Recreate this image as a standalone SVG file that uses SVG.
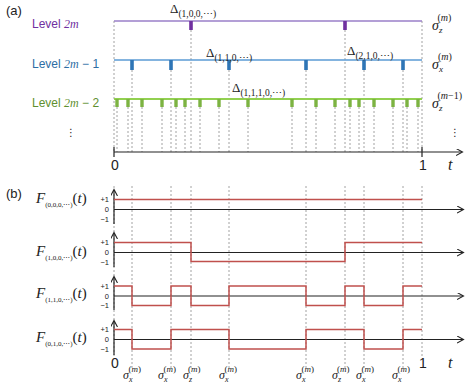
<svg xmlns="http://www.w3.org/2000/svg" width="474" height="384" viewBox="0 0 474 384">
<defs>
<marker id="arr" markerWidth="8" markerHeight="8" refX="6" refY="3.5" orient="auto" markerUnits="userSpaceOnUse">
<path d="M0,0 L6.5,3.5 L0,7" fill="none" stroke="#222" stroke-width="1.1"/>
</marker>
</defs>
<style>
.lbl{font-family:"Liberation Sans",Arial,sans-serif;font-size:13px;fill:#222}
.lev{font-family:"Liberation Sans",Arial,sans-serif;font-size:12px}
.mi{font-family:"Liberation Serif","DejaVu Serif",serif;font-style:italic}
.mr{font-family:"Liberation Serif","DejaVu Serif",serif;font-style:normal}
.math{font-family:"Liberation Serif","DejaVu Serif",serif;fill:#222}
.dash{stroke:#8a8a8a;stroke-width:0.8;stroke-dasharray:2 2;fill:none}
.axis{stroke:#222;stroke-width:1.2;fill:none}
.red{stroke:#c0504d;stroke-width:1.5;fill:none}
.tick{font-family:"Liberation Sans",Arial,sans-serif;font-size:7.5px;fill:#222;text-anchor:end}
.pm{fill:#7030a0}
.bm{fill:#2e75b6}
.gm{fill:#7cb342}
</style>

<text class="lbl" x="6" y="15">(a)</text>
<text class="lbl" x="6" y="198">(b)</text>

<g id="dashes-a">
<path class="dash" d="M114,21V152M422,21V152M191,30V152M345,30V152M132,70V152M171,70V152M229,70V152M306,70V152M364,70V152M403,70V152M117,107V152M128,107V152M142,107V152M162,107V152M176,107V152M185,107V152M200,107V152M219,107V152M248,107V152M292,107V152M316,107V152M335,107V152M350,107V152M359,107V152M374,107V152M393,107V152M407,107V152M418,107V152"/>
</g>

<g id="level-2m">
<text class="lev" x="32" y="28" fill="#7030a0">Level <tspan class="mi">2m</tspan></text>
<line x1="114" y1="21" x2="422" y2="21" stroke="#9a7fc8" stroke-width="1.4"/>
<rect class="pm" x="189.2" y="21" width="3.6" height="9"/>
<rect class="pm" x="343.2" y="21" width="3.6" height="9"/>
<text class="math" x="432" y="30"><tspan class="mi" font-size="14">σ</tspan><tspan class="mi" font-size="9" dy="3">z</tspan><tspan class="mr" font-size="10" dx="-5" dy="-12">(</tspan><tspan class="mi" font-size="10">m</tspan><tspan class="mr" font-size="10">)</tspan></text>
</g>

<g id="level-2m-1">
<text class="lev" x="32" y="68" fill="#2e6da4">Level <tspan class="mi">2m</tspan> − 1</text>
<line x1="114" y1="60" x2="422" y2="60" stroke="#5b9bd5" stroke-width="1.5"/>
<rect class="bm" x="130.2" y="60" width="3.6" height="10"/>
<rect class="bm" x="169.2" y="60" width="3.6" height="10"/>
<rect class="bm" x="227.2" y="60" width="3.6" height="10"/>
<rect class="bm" x="304.2" y="60" width="3.6" height="10"/>
<rect class="bm" x="362.2" y="60" width="3.6" height="10"/>
<rect class="bm" x="401.2" y="60" width="3.6" height="10"/>
<text class="math" x="432" y="69"><tspan class="mi" font-size="14">σ</tspan><tspan class="mi" font-size="9" dy="3">x</tspan><tspan class="mr" font-size="10" dx="-5" dy="-12">(</tspan><tspan class="mi" font-size="10">m</tspan><tspan class="mr" font-size="10">)</tspan></text>
</g>

<g id="level-2m-2">
<text class="lev" x="32" y="107" fill="#5f8f2f">Level <tspan class="mi">2m</tspan> − 2</text>
<line x1="114" y1="99" x2="422" y2="99" stroke="#92d050" stroke-width="2"/>
<g class="gm">
<rect x="115.3" y="99" width="3.4" height="8"/><rect x="126.3" y="99" width="3.4" height="8"/><rect x="140.3" y="99" width="3.4" height="8"/><rect x="160.3" y="99" width="3.4" height="8"/><rect x="174.3" y="99" width="3.4" height="8"/><rect x="183.3" y="99" width="3.4" height="8"/><rect x="198.3" y="99" width="3.4" height="8"/><rect x="217.3" y="99" width="3.4" height="8"/><rect x="246.3" y="99" width="3.4" height="8"/><rect x="290.3" y="99" width="3.4" height="8"/><rect x="314.3" y="99" width="3.4" height="8"/><rect x="333.3" y="99" width="3.4" height="8"/><rect x="348.3" y="99" width="3.4" height="8"/><rect x="357.3" y="99" width="3.4" height="8"/><rect x="372.3" y="99" width="3.4" height="8"/><rect x="391.3" y="99" width="3.4" height="8"/><rect x="405.3" y="99" width="3.4" height="8"/><rect x="416.3" y="99" width="3.4" height="8"/>
</g>
<text class="math" x="432" y="108"><tspan class="mi" font-size="14">σ</tspan><tspan class="mi" font-size="9" dy="3">z</tspan><tspan class="mr" font-size="10" dx="-5" dy="-12">(</tspan><tspan class="mi" font-size="10">m</tspan><tspan class="mr" font-size="10">−1)</tspan></text>
</g>

<g id="delta-labels">
<text class="math" x="170" y="13"><tspan class="mr" font-size="13">Δ</tspan><tspan class="mr" font-size="9.5" dy="4">(1,0,0,⋯)</tspan></text>
<text class="math" x="206" y="57"><tspan class="mr" font-size="13">Δ</tspan><tspan class="mr" font-size="9.5" dy="4">(1,1,0,⋯)</tspan></text>
<text class="math" x="347" y="55"><tspan class="mr" font-size="13">Δ</tspan><tspan class="mr" font-size="9.5" dy="4">(2,1,0,⋯)</tspan></text>
<text class="math" x="232" y="92"><tspan class="mr" font-size="13">Δ</tspan><tspan class="mr" font-size="9.5" dy="4">(1,1,1,0,⋯)</tspan></text>
</g>

<g id="ellipsis">
<text x="66" y="136" font-family="DejaVu Sans,sans-serif" font-size="10" fill="#222">⋮</text>
<text x="450" y="136" font-family="DejaVu Sans,sans-serif" font-size="10" fill="#222">⋮</text>
</g>

<g id="t-axis-a">
<line class="axis" x1="114" y1="152" x2="462" y2="152" marker-end="url(#arr)"/>
<line class="axis" x1="114" y1="147" x2="114" y2="157"/>
<line class="axis" x1="422" y1="147" x2="422" y2="157"/>
<text x="111" y="170" font-family="Liberation Sans,Arial,sans-serif" font-size="14" fill="#222">0</text>
<text x="419" y="170" font-family="Liberation Sans,Arial,sans-serif" font-size="14" fill="#222">1</text>
<text class="math mi" x="448" y="170" font-size="16">t</text>
</g>

<g id="dashes-b">
<path class="dash" d="M114,186V356M422,186V356M132,186V368M171,186V368M191,186V368M229,186V368M306,186V368M345,186V368M364,186V368M403,186V368"/>
</g>

<g id="plot-F000">
<line class="axis" x1="114" y1="224" x2="114" y2="190" marker-end="url(#arr)"/>
<line class="axis" x1="114" y1="209.5" x2="463" y2="209.5" marker-end="url(#arr)"/>
<text class="tick" x="109" y="202">+1</text><text class="tick" x="109" y="212">0</text><text class="tick" x="109" y="221.5">−1</text>
<path class="red" d="M114,199.5H422"/>
<text class="math" x="36" y="203"><tspan class="mi" font-size="15">F</tspan><tspan class="mr" font-size="7" dy="4">(0,0,0,⋯)</tspan><tspan class="mr" font-size="15" dy="-4">(</tspan><tspan class="mi" font-size="15">t</tspan><tspan class="mr" font-size="15">)</tspan></text>
</g>

<g id="plot-F100">
<line class="axis" x1="114" y1="267" x2="114" y2="233" marker-end="url(#arr)"/>
<line class="axis" x1="114" y1="252.5" x2="463" y2="252.5" marker-end="url(#arr)"/>
<text class="tick" x="109" y="245">+1</text><text class="tick" x="109" y="255">0</text><text class="tick" x="109" y="264.5">−1</text>
<path class="red" d="M114,242.5H191V261.5H345V242.5H422"/>
<text class="math" x="36" y="256"><tspan class="mi" font-size="15">F</tspan><tspan class="mr" font-size="7" dy="4">(1,0,0,⋯)</tspan><tspan class="mr" font-size="15" dy="-4">(</tspan><tspan class="mi" font-size="15">t</tspan><tspan class="mr" font-size="15">)</tspan></text>
</g>

<g id="plot-F110">
<line class="axis" x1="114" y1="310" x2="114" y2="277" marker-end="url(#arr)"/>
<line class="axis" x1="114" y1="296" x2="463" y2="296" marker-end="url(#arr)"/>
<text class="tick" x="109" y="288.5">+1</text><text class="tick" x="109" y="298.5">0</text><text class="tick" x="109" y="308">−1</text>
<path class="red" d="M114,286H132V305.5H171V286H191V305.5H229V286H306V305.5H345V286H364V305.5H403V286H422"/>
<text class="math" x="36" y="298"><tspan class="mi" font-size="15">F</tspan><tspan class="mr" font-size="7" dy="4">(1,1,0,⋯)</tspan><tspan class="mr" font-size="15" dy="-4">(</tspan><tspan class="mi" font-size="15">t</tspan><tspan class="mr" font-size="15">)</tspan></text>
</g>

<g id="plot-F010">
<line class="axis" x1="114" y1="355" x2="114" y2="321" marker-end="url(#arr)"/>
<line class="axis" x1="114" y1="339.5" x2="463" y2="339.5" marker-end="url(#arr)"/>
<text class="tick" x="109" y="332">+1</text><text class="tick" x="109" y="342">0</text><text class="tick" x="109" y="351.5">−1</text>
<path class="red" d="M114,329.5H132V349H171V329.5H229V349H306V329.5H364V349H403V329.5H422"/>
<text class="math" x="36" y="341.5"><tspan class="mi" font-size="15">F</tspan><tspan class="mr" font-size="7" dy="4">(0,1,0,⋯)</tspan><tspan class="mr" font-size="15" dy="-4">(</tspan><tspan class="mi" font-size="15">t</tspan><tspan class="mr" font-size="15">)</tspan></text>
</g>

<g id="t-axis-b">
<text x="111" y="368" font-family="Liberation Sans,Arial,sans-serif" font-size="14" fill="#222">0</text>
<text x="419" y="368" font-family="Liberation Sans,Arial,sans-serif" font-size="14" fill="#222">1</text>
<text class="math mi" x="448" y="368" font-size="16">t</text>
</g>

<g id="sigma-labels" class="math">
<text x="123" y="379"><tspan class="mi" font-size="12">σ</tspan><tspan class="mi" font-size="8" dy="3">x</tspan><tspan class="mr" font-size="9" dx="-4" dy="-10">(</tspan><tspan class="mi" font-size="9">m</tspan><tspan class="mr" font-size="9">)</tspan></text>
<text x="158" y="379"><tspan class="mi" font-size="12">σ</tspan><tspan class="mi" font-size="8" dy="3">x</tspan><tspan class="mr" font-size="9" dx="-4" dy="-10">(</tspan><tspan class="mi" font-size="9">m</tspan><tspan class="mr" font-size="9">)</tspan></text>
<text x="183" y="379"><tspan class="mi" font-size="12">σ</tspan><tspan class="mi" font-size="8" dy="3">z</tspan><tspan class="mr" font-size="9" dx="-4" dy="-10">(</tspan><tspan class="mi" font-size="9">m</tspan><tspan class="mr" font-size="9">)</tspan></text>
<text x="219" y="379"><tspan class="mi" font-size="12">σ</tspan><tspan class="mi" font-size="8" dy="3">x</tspan><tspan class="mr" font-size="9" dx="-4" dy="-10">(</tspan><tspan class="mi" font-size="9">m</tspan><tspan class="mr" font-size="9">)</tspan></text>
<text x="296" y="379"><tspan class="mi" font-size="12">σ</tspan><tspan class="mi" font-size="8" dy="3">x</tspan><tspan class="mr" font-size="9" dx="-4" dy="-10">(</tspan><tspan class="mi" font-size="9">m</tspan><tspan class="mr" font-size="9">)</tspan></text>
<text x="332" y="379"><tspan class="mi" font-size="12">σ</tspan><tspan class="mi" font-size="8" dy="3">z</tspan><tspan class="mr" font-size="9" dx="-4" dy="-10">(</tspan><tspan class="mi" font-size="9">m</tspan><tspan class="mr" font-size="9">)</tspan></text>
<text x="356" y="379"><tspan class="mi" font-size="12">σ</tspan><tspan class="mi" font-size="8" dy="3">x</tspan><tspan class="mr" font-size="9" dx="-4" dy="-10">(</tspan><tspan class="mi" font-size="9">m</tspan><tspan class="mr" font-size="9">)</tspan></text>
<text x="392" y="379"><tspan class="mi" font-size="12">σ</tspan><tspan class="mi" font-size="8" dy="3">x</tspan><tspan class="mr" font-size="9" dx="-4" dy="-10">(</tspan><tspan class="mi" font-size="9">m</tspan><tspan class="mr" font-size="9">)</tspan></text>
</g>
</svg>
